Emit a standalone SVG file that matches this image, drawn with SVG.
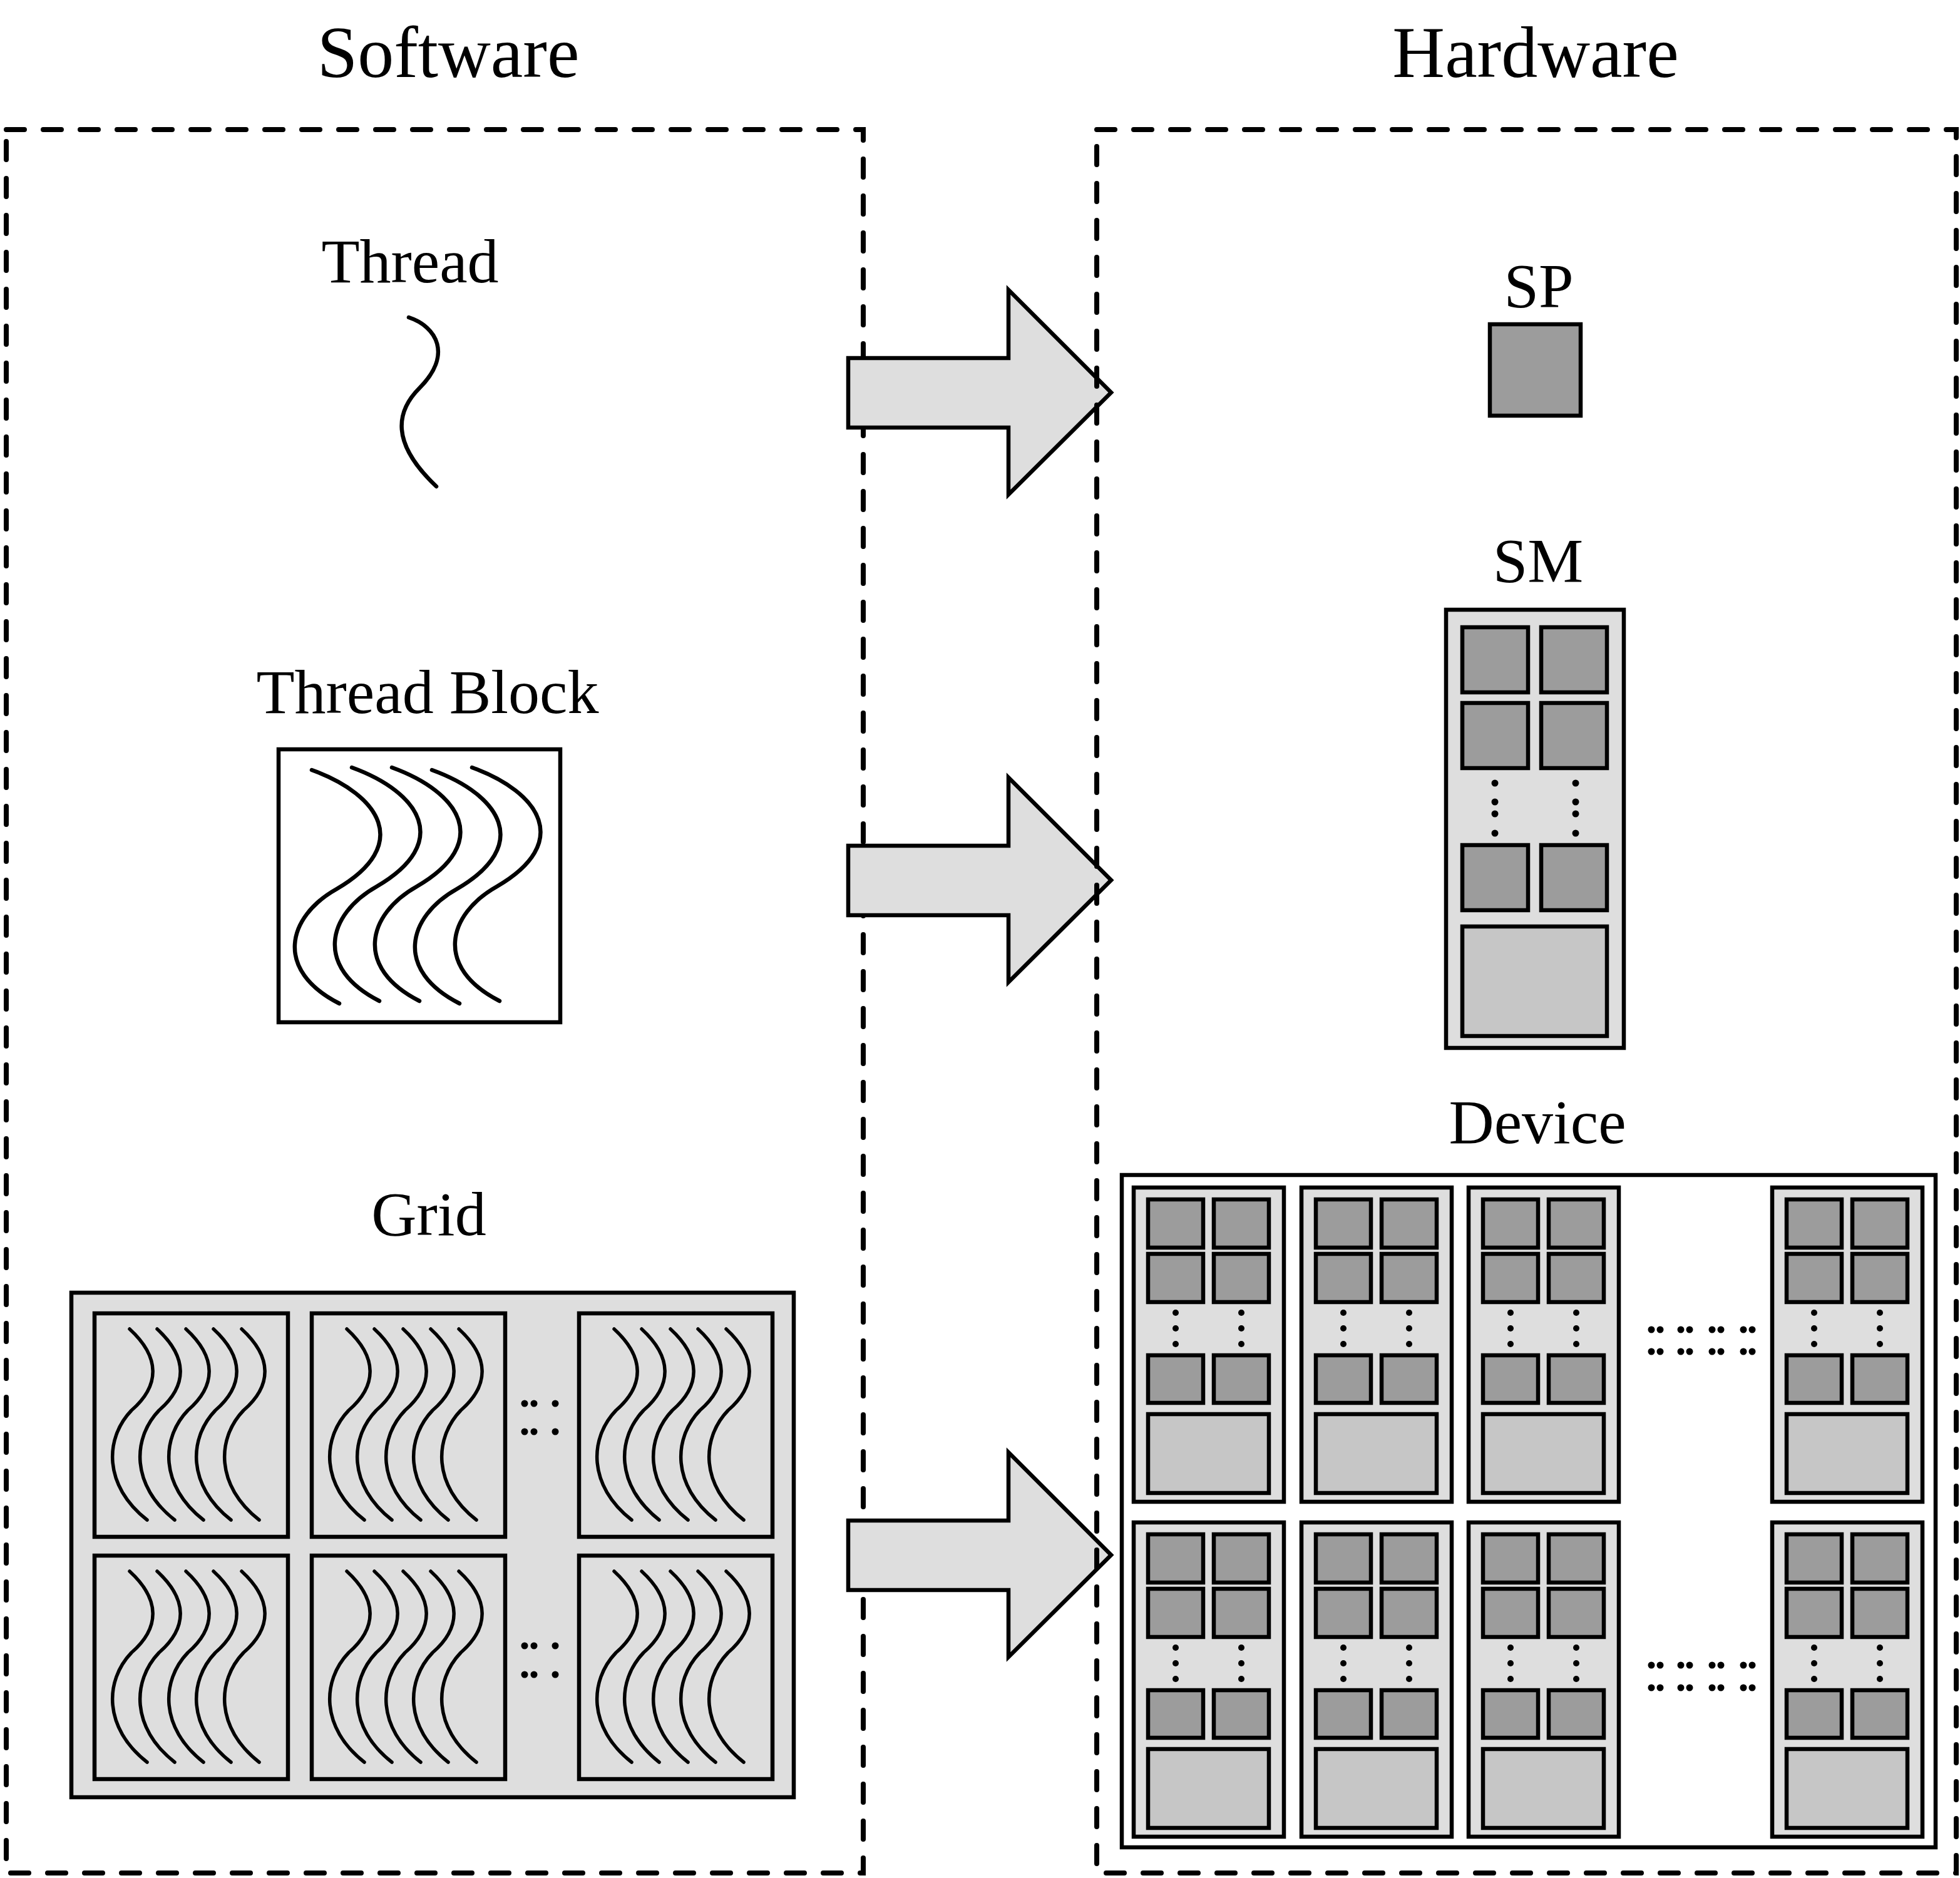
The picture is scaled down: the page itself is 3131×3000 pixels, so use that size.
<svg xmlns="http://www.w3.org/2000/svg" xmlns:xlink="http://www.w3.org/1999/xlink" width="3131" height="3000" viewBox="0 0 3131 3000">
<style>
  .title { font-family: "Liberation Serif", "Times New Roman", serif; font-size: 116px; fill: #000; text-anchor: middle; }
  .label { font-family: "Liberation Serif", "Times New Roman", serif; font-size: 100px; fill: #000; text-anchor: middle; }
  .dash { fill: none; stroke: #000; stroke-width: 8; stroke-dasharray: 29 30; stroke-linecap: round; }
  .box { fill: #fff; stroke: #000; stroke-width: 6.5; }
  .lbox { fill: #dedede; stroke: #000; stroke-width: 6.5; }
  .cell { fill: #9c9c9c; stroke: #000; stroke-width: 6.5; }
  .mem { fill: #c6c6c6; stroke: #000; stroke-width: 6.5; }
  .wave { fill: none; stroke: #000; stroke-width: 6.5; stroke-linecap: round; }
  .gwave { fill: none; stroke: #000; stroke-width: 5.5; stroke-linecap: round; }
  .arrow { fill: #dedede; stroke: #000; stroke-width: 6.5; stroke-linejoin: miter; }
  .dot { fill: #000; }
</style>
<defs>
  <path id="tbw" class="wave" d="M0,0 C110,40 160,120 40,190 C-40,235 -60,320 44,373"/>
  <path id="gw" class="gwave" d="M0,0 C49,45 49,90 3,130 C-40,175 -42,250 28,305"/>
  <g id="gblk">
    <rect class="lbox" x="0" y="0" width="309" height="357"/>
    <use xlink:href="#gw" x="56" y="25"/>
    <use xlink:href="#gw" x="100" y="25"/>
    <use xlink:href="#gw" x="146" y="25"/>
    <use xlink:href="#gw" x="190" y="25"/>
    <use xlink:href="#gw" x="235" y="25"/>
  </g>
  <g id="dsm">
    <rect class="lbox" x="0" y="0" width="240" height="502"/>
    <rect class="cell" x="23" y="19" width="88" height="77"/>
    <rect class="cell" x="128" y="19" width="88" height="77"/>
    <rect class="cell" x="23" y="106" width="88" height="77"/>
    <rect class="cell" x="128" y="106" width="88" height="77"/>
    <rect class="cell" x="23" y="268" width="88" height="76"/>
    <rect class="cell" x="128" y="268" width="88" height="76"/>
    <rect class="mem" x="23" y="362" width="193" height="126"/>
    <circle class="dot" cx="67" cy="200" r="5"/>
    <circle class="dot" cx="67" cy="225" r="5"/>
    <circle class="dot" cx="67" cy="250" r="5"/>
    <circle class="dot" cx="172" cy="200" r="5"/>
    <circle class="dot" cx="172" cy="225" r="5"/>
    <circle class="dot" cx="172" cy="250" r="5"/>
  </g>
  <g id="hdots">
    <circle class="dot" cx="-7" cy="0" r="5.5"/><circle class="dot" cx="7" cy="0" r="5.5"/>
  </g>
</defs>
<rect x="0" y="0" width="3131" height="3000" fill="#fff"/>

<!-- Software panel -->
<g id="software">
  <text class="title" x="716" y="123">Software</text>
  <rect class="dash" x="10" y="207" width="1369" height="2785"/>
</g>

<g id="thread">
  <text class="label" x="655" y="451">Thread</text>
  <path class="wave" d="M653,507 c45,15 70,60 17,113 c-37,37 -47,87 27,157"/>
</g>

<g id="thread-block">
  <text class="label" x="683" y="1139">Thread Block</text>
  <rect class="box" x="445" y="1197" width="450" height="436"/>
  <use xlink:href="#tbw" x="498" y="1230"/>
  <use xlink:href="#tbw" x="562" y="1226"/>
  <use xlink:href="#tbw" x="626" y="1226"/>
  <use xlink:href="#tbw" x="690" y="1230"/>
  <use xlink:href="#tbw" x="754" y="1226"/>
</g>

<g id="grid">
  <text class="label" x="685" y="1973">Grid</text>
  <rect class="lbox" x="114" y="2065" width="1154" height="806"/>
  <use xlink:href="#gblk" x="151" y="2098"/>
  <use xlink:href="#gblk" x="498" y="2098"/>
  <use xlink:href="#gblk" x="925" y="2098"/>
  <use xlink:href="#gblk" x="151" y="2485"/>
  <use xlink:href="#gblk" x="498" y="2485"/>
  <use xlink:href="#gblk" x="925" y="2485"/>
  <circle class="dot" cx="838" cy="2242" r="5.5"/><circle class="dot" cx="853" cy="2242" r="5.5"/><circle class="dot" cx="887" cy="2242" r="5.5"/>
  <circle class="dot" cx="838" cy="2287" r="5.5"/><circle class="dot" cx="853" cy="2287" r="5.5"/><circle class="dot" cx="887" cy="2287" r="5.5"/>
  <circle class="dot" cx="838" cy="2629" r="5.5"/><circle class="dot" cx="853" cy="2629" r="5.5"/><circle class="dot" cx="887" cy="2629" r="5.5"/>
  <circle class="dot" cx="838" cy="2675" r="5.5"/><circle class="dot" cx="853" cy="2675" r="5.5"/><circle class="dot" cx="887" cy="2675" r="5.5"/>
</g>

<!-- Connectors -->
<g id="connectors">
  <polygon class="arrow" points="1355,572 1611,572 1611,463 1775,627 1611,790 1611,683 1355,683"/>
  <polygon class="arrow" points="1355,1351 1611,1351 1611,1242 1775,1406 1611,1569 1611,1462 1355,1462"/>
  <polygon class="arrow" points="1355,2429 1611,2429 1611,2320 1775,2484 1611,2647 1611,2540 1355,2540"/>
</g>

<!-- Hardware panel -->
<g id="hardware">
  <text class="title" x="2453" y="123">Hardware</text>
  <rect class="dash" x="1752" y="207" width="1373" height="2785"/>
</g>

<g id="sp">
  <text class="label" x="2458" y="490">SP</text>
  <rect class="cell" x="2380" y="518" width="145" height="146"/>
</g>

<g id="sm">
  <text class="label" x="2457" y="929">SM</text>
  <rect class="lbox" x="2310" y="974" width="284" height="700"/>
  <rect class="cell" x="2336" y="1002" width="105" height="104"/>
  <rect class="cell" x="2462" y="1002" width="105" height="104"/>
  <rect class="cell" x="2336" y="1123" width="105" height="104"/>
  <rect class="cell" x="2462" y="1123" width="105" height="104"/>
  <rect class="cell" x="2336" y="1350" width="105" height="104"/>
  <rect class="cell" x="2462" y="1350" width="105" height="104"/>
  <rect class="mem" x="2336" y="1480" width="231" height="175"/>
  <circle class="dot" cx="2388" cy="1251" r="5.5"/><circle class="dot" cx="2388" cy="1281" r="5.5"/><circle class="dot" cx="2388" cy="1300" r="5.5"/><circle class="dot" cx="2388" cy="1331" r="5.5"/>
  <circle class="dot" cx="2517" cy="1251" r="5.5"/><circle class="dot" cx="2517" cy="1281" r="5.5"/><circle class="dot" cx="2517" cy="1300" r="5.5"/><circle class="dot" cx="2517" cy="1331" r="5.5"/>
</g>

<g id="device">
  <text class="label" x="2456" y="1826">Device</text>
  <rect class="box" x="1792" y="1877" width="1300" height="1074"/>
  <use xlink:href="#dsm" x="1811" y="1897"/>
  <use xlink:href="#dsm" x="2079" y="1897"/>
  <use xlink:href="#dsm" x="2346" y="1897"/>
  <use xlink:href="#dsm" x="2831" y="1897"/>
  <use xlink:href="#dsm" x="1811" y="2432"/>
  <use xlink:href="#dsm" x="2079" y="2432"/>
  <use xlink:href="#dsm" x="2346" y="2432"/>
  <use xlink:href="#dsm" x="2831" y="2432"/>
  <use xlink:href="#hdots" x="2645" y="2124"/><use xlink:href="#hdots" x="2692" y="2124"/><use xlink:href="#hdots" x="2742" y="2124"/><use xlink:href="#hdots" x="2792" y="2124"/>
  <use xlink:href="#hdots" x="2645" y="2159"/><use xlink:href="#hdots" x="2692" y="2159"/><use xlink:href="#hdots" x="2742" y="2159"/><use xlink:href="#hdots" x="2792" y="2159"/>
  <use xlink:href="#hdots" x="2645" y="2660"/><use xlink:href="#hdots" x="2692" y="2660"/><use xlink:href="#hdots" x="2742" y="2660"/><use xlink:href="#hdots" x="2792" y="2660"/>
  <use xlink:href="#hdots" x="2645" y="2696"/><use xlink:href="#hdots" x="2692" y="2696"/><use xlink:href="#hdots" x="2742" y="2696"/><use xlink:href="#hdots" x="2792" y="2696"/>
</g>
</svg>
